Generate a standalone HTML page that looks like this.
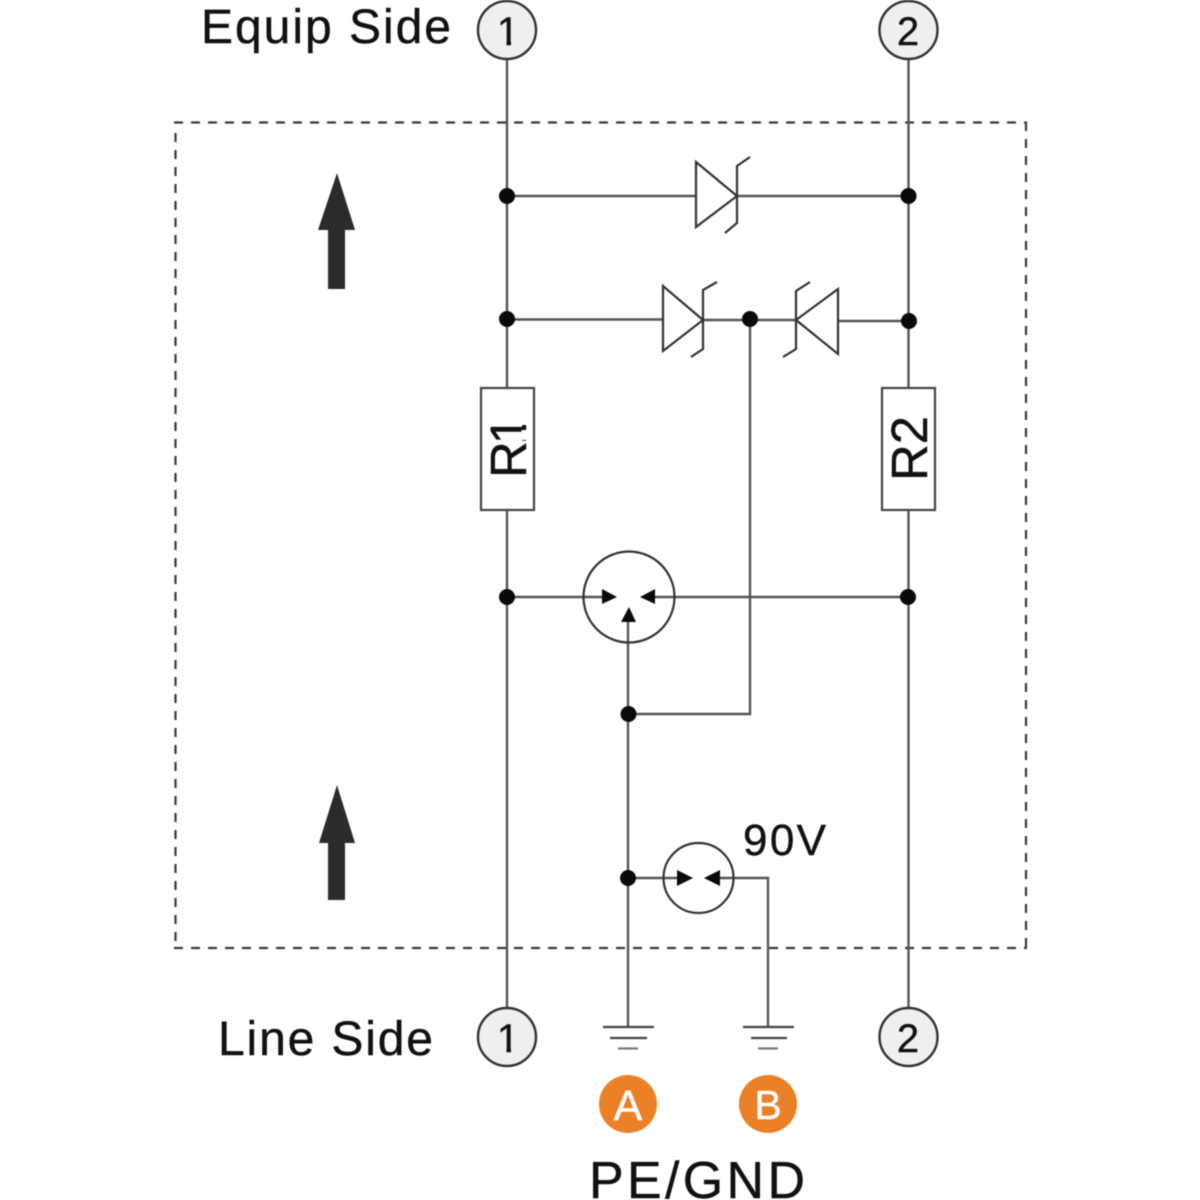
<!DOCTYPE html>
<html><head><meta charset="utf-8"><style>html,body{margin:0;padding:0;background:#fff}svg{display:block;filter:blur(.45px)}text{font-family:"Liberation Sans",sans-serif;fill:#111;stroke:#111;stroke-width:.4px}</style></head>
<body>
<svg width="1200" height="1200" viewBox="0 0 1200 1200" xmlns="http://www.w3.org/2000/svg">
<g fill="none" stroke="#3a3a3a" stroke-width="2.200" stroke-dasharray="9 8">
<path d="M174 122.500H1027"/>
<path d="M175.500 133V948"/>
<path d="M1026 122V948"/>
<path d="M174 948H1027"/>
</g>
<g fill="none" stroke="#555" stroke-width="2.400">
<path d="M507 58V1007M908.500 58V1007"/>
<path d="M507 196H696M737 196H908"/>
<path d="M507 319.500H663M703 320H796M838 321H908"/>
<path d="M507 597H602M655 597H908"/>
<path d="M750 319V714H628M628 616V1027"/>
<path d="M628 878H677M720 878H768V1027"/>
</g>
<rect x="481" y="388" width="53" height="122" fill="#fff" stroke="#444" stroke-width="2.200"/>
<rect x="882" y="388" width="53" height="122" fill="#fff" stroke="#444" stroke-width="2.200"/>
<text transform="translate(526,478) rotate(-90)" font-size="51" textLength="62" lengthAdjust="spacing">R1</text>
<path d="M521.500 414H528V425H521.500ZM521.500 430H528V440H521.500Z" fill="#fff"/>
<text transform="translate(927,481) rotate(-90)" font-size="51" textLength="65" lengthAdjust="spacing">R2</text>
<g fill="#fff" stroke="#333" stroke-width="2.200">
<path d="M696 162V227L737 196Z"/>
<path d="M663 286V351L703 320Z"/>
<path d="M838 289V354L796 320Z"/>
</g>
<g fill="none" stroke="#333" stroke-width="2.200">
<path d="M750 157L737 166V223L725 233"/>
<path d="M717 282L703 290V349L691 357"/>
<path d="M810 282L796 291V349L783 357"/>
</g>
<circle cx="629" cy="597" r="45.500" fill="none" stroke="#333" stroke-width="2.200"/>
<circle cx="698.500" cy="878" r="35" fill="none" stroke="#333" stroke-width="2.200"/>
<g fill="#0a0a0a">
<path d="M602 589V604L617 597Z"/>
<path d="M655 589V604L640 597Z"/>
<path d="M621 622H636L629 607Z"/>
<path d="M677 870V886L693 878Z"/>
<path d="M720 870V886L704 878Z"/>
<circle cx="507" cy="196" r="8"/><circle cx="908.500" cy="196" r="8"/>
<circle cx="507" cy="319" r="8"/><circle cx="909" cy="321" r="8"/>
<circle cx="750" cy="319" r="8"/>
<circle cx="507" cy="597" r="8"/><circle cx="908" cy="597" r="8"/>
<circle cx="628.500" cy="714" r="8"/><circle cx="628" cy="878" r="8"/>
</g>
<g fill="#2b2b2b">
<path d="M337 173L318 230H328V289H345V230H355Z"/>
<path d="M337 785L319 843H328V900H345V843H355Z"/>
</g>
<g fill="#efefef" stroke="#333" stroke-width="2.400">
<circle cx="507" cy="30" r="29"/><circle cx="908.500" cy="30" r="29"/>
<circle cx="507" cy="1037" r="29"/><circle cx="908.500" cy="1037" r="29"/>
</g>
<g font-size="40" text-anchor="middle">
<text x="508" y="45">1</text><text x="908" y="45">2</text>
<text x="508" y="1052">1</text><text x="908" y="1052">2</text>
</g>
<path d="M498 41.500H506.500V46.500H498ZM511 41.500H519V46.500H511ZM498 1048.500H506.500V1053.500H498ZM511 1048.500H519V1053.500H511Z" fill="#efefef"/>
<g stroke="#444" fill="none" stroke-width="2.200">
<path d="M603 1027H654M743 1027H794"/>
<path d="M610 1038H647M751 1038H787"/>
<path d="M618 1048.500H638M758 1048.500H778" stroke="#777"/>
</g>
<circle cx="628" cy="1104" r="29" fill="#ea8126"/>
<circle cx="768" cy="1104" r="29" fill="#ea8126"/>
<text x="628" y="1120" font-size="43" text-anchor="middle" style="fill:#fff;stroke:#fff">A</text>
<text x="768" y="1119" font-size="41" text-anchor="middle" style="fill:#fff;stroke:#fff">B</text>
<text x="201" y="43" font-size="48" textLength="250" lengthAdjust="spacing">Equip Side</text>
<text x="218" y="1055" font-size="48" textLength="215" lengthAdjust="spacing">Line Side</text>
<text x="743" y="855" font-size="44" textLength="83" lengthAdjust="spacing">90V</text>
<text x="589" y="1198" font-size="52" textLength="216" lengthAdjust="spacing">PE/GND</text>
</svg>
</body></html>
